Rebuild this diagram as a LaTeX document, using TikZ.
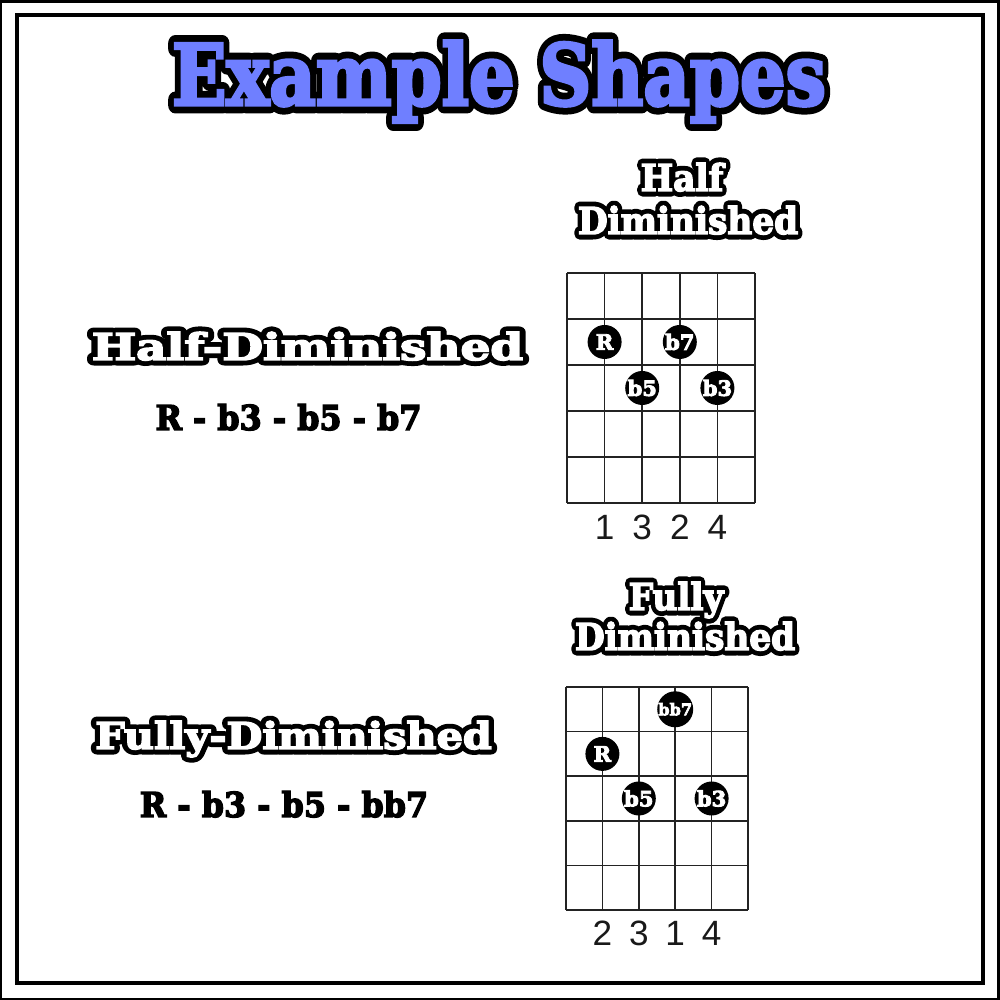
\documentclass[tikz,border=0pt]{standalone}
\usepackage{fontspec}
\usetikzlibrary{calc,positioning}

\newfontfamily\slab[FakeBold=4]{DejaVu Serif}
\newfontfamily\slabedge[FakeBold=30]{DejaVu Serif}
\newfontfamily\slabtitleedge[FakeBold=20]{DejaVu Serif}
\newfontfamily\fingerfont{Liberation Sans}

\definecolor{titleblue}{RGB}{111,127,255}
\definecolor{fretgray}{RGB}{35,35,35}

\tikzset{
  frame/.style={draw=black, line width=1.15pt},
  fret/.style={draw=fretgray, line width=0.45pt},
  dot/.style={circle, fill=black, minimum size=0.34cm, inner sep=0pt,
    text=white, font=\slab\bfseries\fontsize{6}{6}\selectfont},
  smalldot/.style={dot, font=\slab\bfseries\fontsize{4.6}{5}\selectfont},
  finger/.style={font=\fingerfont\fontsize{10}{12}\selectfont, text=black!90},
  titleedge/.style={anchor=base, inner sep=0pt, text=black, line join=round,
    font=\slabtitleedge\bfseries\fontsize{24}{28}\selectfont},
  titletext/.style={anchor=base, inner sep=0pt, text=titleblue,
    font=\slab\bfseries\fontsize{24}{28}\selectfont},
  labeledge/.style={anchor=base, inner sep=0pt, text=black, line join=round,
    font=\slabedge\bfseries\fontsize{10.5}{12}\selectfont},
  labeltext/.style={anchor=base, inner sep=0pt, text=white,
    font=\slab\bfseries\fontsize{10.5}{12}\selectfont},
  formula/.style={anchor=base, inner sep=0pt, text=black,
    font=\slab\bfseries\fontsize{9.75}{12}\selectfont}
}

\begin{document}
\begin{tikzpicture}
    \useasboundingbox (0,0) rectangle (10,10);
    % frames
    \draw[line width=0.6pt] (0.012,0.012) rectangle (9.985,9.985);
    \draw[frame] (0.17,0.17) rectangle (9.83,9.845);

    % title
    \node[titleedge] (titlebg) at (4.99,8.95) {\scalebox{0.85}[1]{Example Shapes}};
    \node[titletext] (title) at (4.99,8.95) {\scalebox{0.85}[1]{Example Shapes}};

    % half diminished
    \node[labeledge] (halfnamebg) at (3.075,6.40) {\scalebox{1.27}[1]{Half-Diminished}};
    \node[labeltext] (halfname) at (3.075,6.40) {\scalebox{1.27}[1]{Half-Diminished}};
    \node[formula] (halfnotes) at (2.885,5.70) {\scalebox{0.93}[1]{R - b3 - b5 - b7}};
    \node[labeledge] (halfheadbg) at (6.82,8.09) {\scalebox{0.93}[1]{Half}};
    \node[labeltext] (halfhead) at (6.82,8.09) {\scalebox{0.93}[1]{Half}};
    \node[labeledge] (halfhead2bg) at (6.88,7.66) {\scalebox{0.93}[1]{Diminished}};
    \node[labeltext] (halfhead2) at (6.88,7.66) {\scalebox{0.93}[1]{Diminished}};

    \begin{scope}[shift={(5.67,4.97)}]
      \foreach \i in {0,...,5}
        \draw[fret] (\i*0.376,0) -- (\i*0.376,2.30);
      \foreach \j in {0,...,5}
        \draw[fret] (0,\j*0.46) -- (1.88,\j*0.46);
      \node[dot] (hR)  at (0.376,1.61) {R};
      \node[dot] (hb7) at (1.128,1.61) {b7};
      \node[dot] (hb5) at (0.752,1.15) {b5};
      \node[dot] (hb3) at (1.504,1.15) {b3};
      \node[finger] (hf1) at (0.376,-0.24) {1};
      \node[finger] (hf2) at (0.752,-0.24) {3};
      \node[finger] (hf3) at (1.128,-0.24) {2};
      \node[finger] (hf4) at (1.504,-0.24) {4};
    \end{scope}

    % fully diminished
    \node[labeledge] (fullnamebg) at (2.935,2.51) {\scalebox{1.12}[1]{Fully-Diminished}};
    \node[labeltext] (fullname) at (2.935,2.51) {\scalebox{1.12}[1]{Fully-Diminished}};
    \node[formula] (fullnotes) at (2.84,1.83) {\scalebox{0.93}[1]{R - b3 - b5 - bb7}};
    \node[labeledge] (fullheadbg) at (6.76,3.90) {\scalebox{0.93}[1]{Fully}};
    \node[labeltext] (fullhead) at (6.76,3.90) {\scalebox{0.93}[1]{Fully}};
    \node[labeledge] (fullhead2bg) at (6.85,3.50) {\scalebox{0.93}[1]{Diminished}};
    \node[labeltext] (fullhead2) at (6.85,3.50) {\scalebox{0.93}[1]{Diminished}};

    \begin{scope}[shift={(5.66,0.90)}]
      \foreach \i in {0,...,5}
        \draw[fret] (\i*0.364,0) -- (\i*0.364,2.23);
      \foreach \j in {0,...,5}
        \draw[fret] (0,\j*0.446) -- (1.82,\j*0.446);
      \node[smalldot] (fbb7) at (1.092,2.007) {bb7};
      \node[dot] (fR)  at (0.364,1.561) {R};
      \node[dot] (fb5) at (0.728,1.115) {b5};
      \node[dot] (fb3) at (1.456,1.115) {b3};
      \node[finger] (ff1) at (0.364,-0.23) {2};
      \node[finger] (ff2) at (0.728,-0.23) {3};
      \node[finger] (ff3) at (1.092,-0.23) {1};
      \node[finger] (ff4) at (1.456,-0.23) {4};
    \end{scope}
\end{tikzpicture}
\end{document}
